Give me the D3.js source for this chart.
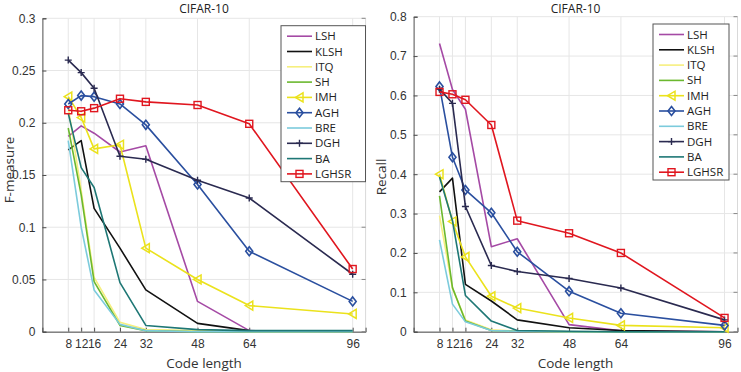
<!DOCTYPE html>
<html>
<head>
<meta charset="utf-8">
<script src="https://cdn.jsdelivr.net/npm/d3@7"></script>
<style>
  body { margin: 0; background: #fff; }
  svg { font-family: "Open Sans", "Noto Sans", sans-serif; }
</style>
</head>
<body>
<svg width="741" height="372"></svg>
<script>
const codeLengths = [8, 12, 16, 24, 32, 48, 64, 96];
const methods = ["LSH", "KLSH", "ITQ", "SH", "IMH", "AGH", "BRE", "DGH", "BA", "LGHSR"];
const colors = ["#a54aa5", "#111111", "#f6ef7e", "#6bb82e", "#ebe21c", "#2a4f9f", "#7ccbdc", "#2a2a50", "#1e7775", "#e0161f"];
const markers = ["none", "none", "none", "none", "triangle", "diamond", "none", "plus", "none", "square"];

const fmeasure = [
  [0.187, 0.197, 0.190, 0.172, 0.178, 0.029, 0.001, 0.000],
  [0.174, 0.183, 0.118, 0.080, 0.040, 0.008, 0.001, 0.000],
  [0.215, 0.135, 0.052, 0.009, 0.002, 0.001, 0.000, 0.000],
  [0.195, 0.131, 0.048, 0.006, 0.001, 0.000, 0.000, 0.000],
  [0.225, 0.205, 0.175, 0.179, 0.080, 0.050, 0.025, 0.017],
  [0.218, 0.226, 0.225, 0.218, 0.198, 0.141, 0.077, 0.029],
  [0.183, 0.100, 0.040, 0.007, 0.001, 0.000, 0.000, 0.000],
  [0.260, 0.248, 0.233, 0.168, 0.165, 0.145, 0.128, 0.055],
  [0.209, 0.157, 0.138, 0.047, 0.006, 0.002, 0.001, 0.001],
  [0.212, 0.211, 0.214, 0.223, 0.220, 0.217, 0.199, 0.060]
];

const recall = [
  [0.732, 0.615, 0.565, 0.216, 0.236, 0.018, 0.002, 0.000],
  [0.355, 0.390, 0.120, 0.078, 0.030, 0.010, 0.003, 0.000],
  [0.295, 0.110, 0.030, 0.005, 0.001, 0.000, 0.000, 0.000],
  [0.345, 0.112, 0.027, 0.003, 0.001, 0.000, 0.000, 0.000],
  [0.400, 0.280, 0.190, 0.090, 0.060, 0.035, 0.016, 0.010],
  [0.623, 0.443, 0.360, 0.302, 0.203, 0.103, 0.047, 0.016],
  [0.233, 0.070, 0.025, 0.003, 0.001, 0.000, 0.000, 0.000],
  [0.616, 0.580, 0.318, 0.168, 0.153, 0.135, 0.111, 0.030],
  [0.393, 0.282, 0.092, 0.027, 0.003, 0.001, 0.000, 0.000],
  [0.609, 0.603, 0.589, 0.525, 0.282, 0.250, 0.200, 0.035]
];

const fmeasureTicks = [0, 0.05, 0.1, 0.15, 0.2, 0.25, 0.3];
const recallTicks = [0, 0.1, 0.2, 0.3, 0.4, 0.5, 0.6, 0.7, 0.8];

const svg = d3.select("svg");

function drawMarker(g, type, x, y, color) {
  if (type === "triangle") {
    g.append("path")
      .attr("d", `M${x - 4},${y} L${x + 3.5},${y - 4.5} L${x + 3.5},${y + 4.5} Z`)
      .attr("fill", "none").attr("stroke", color).attr("stroke-width", 1.5);
  } else if (type === "diamond") {
    g.append("path")
      .attr("d", `M${x},${y - 4.5} L${x + 3.5},${y} L${x},${y + 4.5} L${x - 3.5},${y} Z`)
      .attr("fill", "none").attr("stroke", color).attr("stroke-width", 1.6);
  } else if (type === "plus") {
    g.append("path")
      .attr("d", `M${x - 3.5},${y} H${x + 3.5} M${x},${y - 3.5} V${y + 3.5}`)
      .attr("stroke", color).attr("stroke-width", 1.4);
  } else if (type === "square") {
    g.append("rect")
      .attr("x", x - 3.5).attr("y", y - 3.5).attr("width", 7).attr("height", 7)
      .attr("fill", "none").attr("stroke", color).attr("stroke-width", 1.4);
  }
}

function panel(opts) {
  const x = d3.scaleLinear().domain([0, 100]).range([opts.left, opts.right]);
  const y = d3.scaleLinear().domain([0, opts.ymax]).range([331.7, opts.top]);
  const g = svg.append("g");

  // grid
  g.append("g").selectAll("line").data(opts.yTicks).join("line")
    .attr("x1", opts.left).attr("x2", opts.right)
    .attr("y1", d => y(d)).attr("y2", d => y(d))
    .attr("stroke", "#e6e6e6").attr("stroke-width", 1);
  g.append("g").selectAll("line").data(codeLengths).join("line")
    .attr("x1", d => x(d)).attr("x2", d => x(d))
    .attr("y1", y(0)).attr("y2", opts.top)
    .attr("stroke", "#e6e6e6").attr("stroke-width", 1);
  g.append("line")
    .attr("x1", opts.right).attr("x2", opts.right)
    .attr("y1", y(0)).attr("y2", opts.top)
    .attr("stroke", "#d9d9d9");

  // axes
  const yAxis = g.append("g").attr("transform", `translate(${opts.left},0)`)
    .call(d3.axisLeft(y).tickValues(opts.yTicks).tickSize(-4).tickPadding(7)
      .tickFormat(d => d3.format("")(+d.toFixed(2))));
  const xAxis = g.append("g").attr("transform", `translate(0,${y(0)})`)
    .call(d3.axisBottom(x).tickValues(codeLengths).tickSize(-4).tickPadding(8));
  [xAxis, yAxis].forEach(a => {
    a.select(".domain").attr("stroke", "#4d4d4d");
    a.selectAll(".tick line").attr("stroke", "#4d4d4d");
    a.selectAll("text").attr("fill", "#333").style("font-size", "12px");
  });
  // right side ticks
  g.append("g").selectAll("line").data(opts.yTicks).join("line")
    .attr("x1", opts.right - 4).attr("x2", opts.right)
    .attr("y1", d => y(d)).attr("y2", d => y(d))
    .attr("stroke", "#888");

  // series
  const line = d3.line().x((d, i) => x(codeLengths[i])).y(d => y(d));
  opts.data.forEach((vals, k) => {
    const sg = g.append("g");
    sg.append("path").datum(vals).attr("d", line)
      .attr("fill", "none").attr("stroke", colors[k]).attr("stroke-width", 1.6)
      .attr("stroke-linejoin", "round");
    if (markers[k] !== "none") {
      vals.forEach((v, i) => drawMarker(sg, markers[k], x(codeLengths[i]), y(v), colors[k]));
    }
  });

  // legend
  const lg = g.append("g");
  lg.append("rect")
    .attr("x", opts.legX).attr("y", opts.legY)
    .attr("width", opts.legW).attr("height", 156)
    .attr("fill", "#fff").attr("stroke", "#555").attr("stroke-width", 1);
  methods.forEach((m, k) => {
    const ly = opts.legY + 10.5 + k * 15.3;
    const lx = opts.legX + 6;
    lg.append("line").attr("x1", lx).attr("x2", lx + 25)
      .attr("y1", ly).attr("y2", ly)
      .attr("stroke", colors[k]).attr("stroke-width", 1.6);
    if (markers[k] !== "none") drawMarker(lg, markers[k], lx + 12.5, ly, colors[k]);
    lg.append("text").attr("x", lx + 28).attr("y", ly + 4)
      .attr("fill", "#222").style("font-size", "11.5px").text(m);
  });

  // labels
  g.append("text").attr("x", (opts.left + opts.right) / 2).attr("y", 12.5)
    .attr("text-anchor", "middle").attr("fill", "#222").style("font-size", "12px")
    .text("CIFAR-10");
  g.append("text").attr("x", (opts.left + opts.right) / 2).attr("y", 368)
    .attr("text-anchor", "middle").attr("fill", "#333").style("font-size", "13.5px")
    .text("Code length");
  g.append("text")
    .attr("transform", `translate(${opts.yLabelX},${opts.yLabelY}) rotate(-90)`)
    .attr("text-anchor", "middle").attr("fill", "#333").style("font-size", "13.5px")
    .text(opts.yLabel);
}

panel({ left: 42.4, right: 365.6, top: 18.3, ymax: 0.3, yTicks: fmeasureTicks, data: fmeasure,
  legX: 281, legY: 25.7, legW: 84.5, yLabel: "F-measure", yLabelX: 14, yLabelY: 170 });
panel({ left: 413.6, right: 737.5, top: 16.7, ymax: 0.8, yTicks: recallTicks, data: recall,
  legX: 653, legY: 24, legW: 76, yLabel: "Recall", yLabelX: 386, yLabelY: 177 });
</script>
</body>
</html>
